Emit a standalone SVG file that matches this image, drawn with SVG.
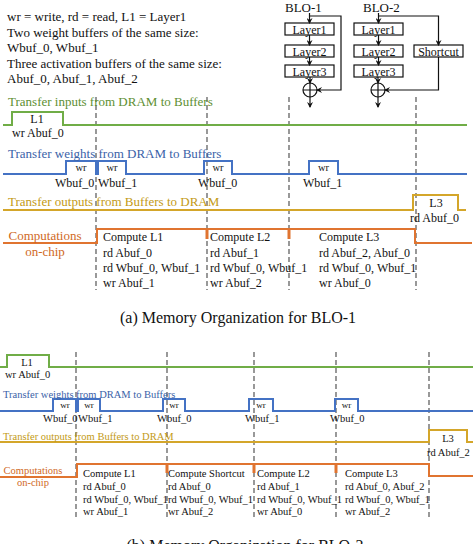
<svg xmlns="http://www.w3.org/2000/svg" width="474" height="544" viewBox="0 0 474 544">
<style>
text{font-family:"Liberation Serif","Times New Roman",serif;fill:#111}
.t13{font-size:13px}
.t12{font-size:12px}
.t10{font-size:10.5px}
.t9{font-size:9px}
.cap{font-size:16px}
.g{fill:#5E8F32}.b{fill:#3A62A8}.y{fill:#C39A15}.o{fill:#D0691E}
.lg{stroke:#70AD47;stroke-width:2;fill:none}
.lb{stroke:#4472C4;stroke-width:2;fill:none}
.ly{stroke:#D4A62A;stroke-width:2;fill:none}
.lo{stroke:#E07430;stroke-width:2;fill:none}
.dash{stroke:#555;stroke-width:1.2;stroke-dasharray:5,3;fill:none}
.blk{stroke:#111;stroke-width:1.2;fill:none}
.box{stroke:#111;stroke-width:1.2;fill:#fff}
.mid{text-anchor:middle}
.notch{fill:#E07430}
</style>
<defs>
<marker id="ah" markerWidth="6" markerHeight="6" refX="5" refY="3" orient="auto" markerUnits="userSpaceOnUse">
<path d="M0,0 L6,3 L0,6 L2,3 Z" fill="#111"/>
</marker>
</defs>
<rect width="474" height="544" fill="#fff"/>

<g id="legend">
<text class="t13" x="7" y="21">wr = write, rd = read, L1 = Layer1</text>
<text class="t13" x="7" y="36.5">Two weight buffers of the same size:</text>
<text class="t13" x="7" y="52">Wbuf_0, Wbuf_1</text>
<text class="t13" x="7" y="67.5">Three activation buffers of the same size:</text>
<text class="t13" x="7" y="83">Abuf_0, Abuf_1, Abuf_2</text>
</g>

<g id="blo1">
<text class="t13" x="285" y="11.5">BLO-1</text>
<rect class="box" x="285" y="23" width="49" height="12"/>
<text class="t12 mid" x="309.5" y="33.5">Layer1</text>
<rect class="box" x="285" y="45" width="49" height="12"/>
<text class="t12 mid" x="309.5" y="55.5">Layer2</text>
<rect class="box" x="285" y="65" width="49" height="12"/>
<text class="t12 mid" x="309.5" y="75.5">Layer3</text>
<circle class="blk" cx="310" cy="90" r="7"/>
<path class="blk" d="M303,90 H317 M310,83 V97"/>
</g>

<g id="blo2">
<text class="t13" x="363" y="11.5">BLO-2</text>
<rect class="box" x="354" y="23" width="49" height="12"/>
<text class="t12 mid" x="378.5" y="33.5">Layer1</text>
<rect class="box" x="354" y="45" width="49" height="12"/>
<text class="t12 mid" x="378.5" y="55.5">Layer2</text>
<rect class="box" x="354" y="65" width="49" height="12"/>
<text class="t12 mid" x="378.5" y="75.5">Layer3</text>
<rect class="box" x="414" y="45" width="49" height="12"/>
<text class="t12 mid" x="438.5" y="55.5">Shortcut</text>
<circle class="blk" cx="378" cy="90" r="7"/>
<path class="blk" d="M371,90 H385 M378,83 V97"/>
</g>

<g id="connectors">
<path class="blk" d="M309.5,13 V23" marker-end="url(#ah)"/>
<path class="blk" d="M309.5,16 H341 V90 H317" marker-end="url(#ah)"/>
<path class="blk" d="M309.5,35 V45" marker-end="url(#ah)"/>
<path class="blk" d="M309.5,57 V65" marker-end="url(#ah)"/>
<path class="blk" d="M310,77 V83" marker-end="url(#ah)"/>
<path class="blk" d="M310,97 V107" marker-end="url(#ah)"/>
<path class="blk" d="M378.5,13 V23" marker-end="url(#ah)"/>
<path class="blk" d="M378.5,16 H438.5 V45" marker-end="url(#ah)"/>
<path class="blk" d="M378.5,35 V45" marker-end="url(#ah)"/>
<path class="blk" d="M378.5,57 V65" marker-end="url(#ah)"/>
<path class="blk" d="M378,77 V83" marker-end="url(#ah)"/>
<path class="blk" d="M438.5,57 V90 H385" marker-end="url(#ah)"/>
<path class="blk" d="M378,97 V107" marker-end="url(#ah)"/>
</g>

<g id="timeline-a">
<path class="dash" d="M96,97 V290 M207,97 V290 M289,97 V290 M416,97 V290"/>
<path class="lg" d="M3,125 H12 V112 H63 V125 H467"/>
<text class="t13 g" x="8" y="106">Transfer inputs from DRAM to Buffers</text>
<text class="t12 mid" x="37" y="122.5">L1</text>
<text class="t12" x="12" y="137">wr Abuf_0</text>

<path class="lb" d="M3,174 H66 V161 H96 V174 H98 V161 H126 V174 H204 V161 H232 V174 H309 V161 H338 V174 H467"/>
<text class="t13 b" x="8" y="158">Transfer weights from DRAM to Buffers</text>
<text class="t10 mid" x="81" y="171">wr</text>
<text class="t10 mid" x="112" y="171">wr</text>
<text class="t10 mid" x="218" y="171">wr</text>
<text class="t10 mid" x="323.5" y="171">wr</text>
<text class="t12" x="55" y="187">Wbuf_0</text>
<text class="t12" x="98" y="187">Wbuf_1</text>
<text class="t12" x="198" y="187">Wbuf_0</text>
<text class="t12" x="303" y="187">Wbuf_1</text>

<path class="ly" d="M3,210 H413 V195 H458 V210 H466"/>
<text class="t13 y" x="8" y="206">Transfer outputs from Buffers to DRAM</text>
<text class="t12 mid" x="436" y="207">L3</text>
<text class="t12" x="410" y="222">rd Abuf_0</text>

<path class="lo" d="M3,243 H97 V229 H415 V243 H472"/>
<rect class="notch" x="205.5" y="229" width="3" height="10"/>
<rect class="notch" x="287.5" y="229" width="3" height="10"/>
<text class="t13 o mid" x="45" y="240">Computations</text>
<text class="t13 o mid" x="45" y="256">on-chip</text>
<text class="t12" x="103" y="241">Compute L1</text>
<text class="t12" x="103" y="257">rd Abuf_0</text>
<text class="t12" x="103" y="272">rd Wbuf_0, Wbuf_1</text>
<text class="t12" x="103" y="287">wr Abuf_1</text>
<text class="t12" x="210" y="241">Compute L2</text>
<text class="t12" x="210" y="257">rd Abuf_1</text>
<text class="t12" x="210" y="272">rd Wbuf_0, Wbuf_1</text>
<text class="t12" x="210" y="287">wr Abuf_2</text>
<text class="t12" x="319" y="241">Compute L3</text>
<text class="t12" x="319" y="257">rd Abuf_2, Abuf_0</text>
<text class="t12" x="319" y="272">rd Wbuf_0, Wbuf_1</text>
<text class="t12" x="319" y="287">wr Abuf_0</text>
<text class="cap mid" x="238" y="323">(a) Memory Organization for BLO-1</text>
</g>

<g id="timeline-b">
<path class="dash" d="M76,352 V518 M167,352 V518 M254,352 V518 M336,352 V518 M429,352 V518"/>
<path class="lg" d="M0,367 H7 V355 H49 V367 H473"/>
<text class="t10 mid" x="27" y="365.5">L1</text>
<text class="t10" x="5" y="378">wr Abuf_0</text>

<path class="lb" d="M0,411 H53 V399 H76 V411 H78 V399 H100 V411 H163 V399 H185 V411 H249 V399 H273 V411 H335 V399 H358 V411 H473"/>
<text class="t10 b" x="3" y="397.5">Transfer weights from DRAM to Buffers</text>
<text class="t9 mid" x="65" y="408">wr</text>
<text class="t9 mid" x="89" y="408">wr</text>
<text class="t9 mid" x="174" y="408">wr</text>
<text class="t9 mid" x="261" y="408">wr</text>
<text class="t9 mid" x="346.5" y="408">wr</text>
<text class="t10" x="43" y="422">Wbuf_0</text>
<text class="t10" x="78" y="422">Wbuf_1</text>
<text class="t10" x="157" y="422">Wbuf_0</text>
<text class="t10" x="245" y="422">Wbuf_1</text>
<text class="t10" x="330" y="422">Wbuf_0</text>

<path class="ly" d="M0,442 H429 V430 H467 V442 H473"/>
<text class="t10 y" x="3" y="439.5">Transfer outputs from Buffers to DRAM</text>
<text class="t10 mid" x="448" y="441.5">L3</text>
<text class="t10" x="427" y="456">rd Abuf_2</text>

<path class="lo" d="M0,477 H77 V464 H429 V476 H473"/>
<rect class="notch" x="165.5" y="464" width="3" height="9"/>
<rect class="notch" x="252.5" y="464" width="3" height="9"/>
<rect class="notch" x="334.5" y="464" width="3" height="9"/>
<text class="t10 o mid" x="33" y="473.5">Computations</text>
<text class="t10 o mid" x="33" y="486">on-chip</text>
<text class="t10" x="83" y="477">Compute L1</text>
<text class="t10" x="83" y="490">rd Abuf_0</text>
<text class="t10" x="83" y="502.5">rd Wbuf_0, Wbuf_1</text>
<text class="t10" x="83" y="515">wr Abuf_1</text>
<text class="t10" x="168" y="477">Compute Shortcut</text>
<text class="t10" x="168" y="490">rd Abuf_0</text>
<text class="t10" x="168" y="502.5">rd Wbuf_0, Wbuf_1</text>
<text class="t10" x="168" y="515">wr Abuf_2</text>
<text class="t10" x="257" y="477">Compute L2</text>
<text class="t10" x="257" y="490">rd Abuf_1</text>
<text class="t10" x="257" y="502.5">rd Wbuf_0, Wbuf_1</text>
<text class="t10" x="257" y="515">wr Abuf_0</text>
<text class="t10" x="345" y="477">Compute L3</text>
<text class="t10" x="345" y="490">rd Abuf_0, Abuf_2</text>
<text class="t10" x="345" y="502.5">rd Wbuf_0, Wbuf_1</text>
<text class="t10" x="345" y="515">wr Abuf_2</text>
<text class="cap mid" x="245" y="551">(b) Memory Organization for BLO-2</text>
</g>
</svg>
